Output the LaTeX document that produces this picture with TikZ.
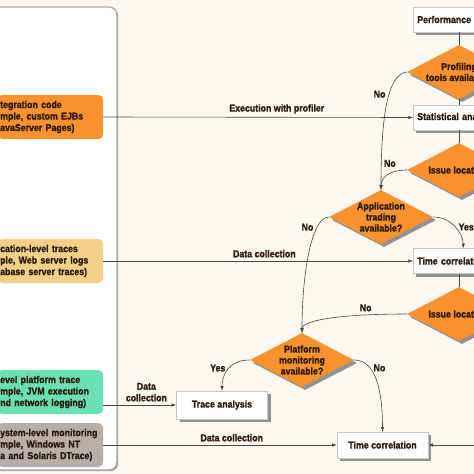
\documentclass[tikz,border=0pt]{standalone}
\usepackage{fontspec}
\setmainfont[FakeStretch=0.88, BoldFeatures={FakeBold=1.2}]{Liberation Sans}
\usetikzlibrary{shapes.geometric,shadows}

\definecolor{bgcream}{HTML}{FCF8EF}
\definecolor{boxorange}{HTML}{F7922F}
\definecolor{boxtan}{HTML}{F2D08A}
\definecolor{boxgreen}{HTML}{6BE0B4}
\definecolor{boxgrey}{HTML}{B7AFA8}
\definecolor{linegrey}{HTML}{474747}
\definecolor{shadegrey}{HTML}{929292}
\definecolor{darktext}{HTML}{2A1A0C}

\tikzset{
  every node/.style={font=\bfseries\fontsize{10}{11.5}\selectfont, text=darktext},
  process/.style={rectangle, draw=gray!45, fill=white, line width=0.5pt, minimum height=25pt,
    inner xsep=4pt, drop shadow={shadow xshift=3pt, shadow yshift=-3pt, fill=shadegrey, opacity=1}},
  decision/.style={diamond, fill=boxorange, minimum width=104pt, minimum height=54pt, inner sep=0pt,
    drop shadow={shadow xshift=3pt, shadow yshift=-3pt, fill=shadegrey, opacity=1}},
  dtext/.style={align=center, font=\bfseries\fontsize{10}{11}\selectfont},
  source/.style={rectangle, rounded corners=5pt, anchor=west, text width=100pt, inner xsep=3pt,
    align=left, minimum height=44pt},
  flow/.style={draw=linegrey, line width=0.6pt, -latex},
  link/.style={draw=linegrey, line width=0.6pt},
}

\begin{document}
\begin{tikzpicture}[x=1pt, y=-1pt]
  \useasboundingbox (0,0) rectangle (474,474);
  \clip (0,0) rectangle (474,474);
  \fill[bgcream] (0,0) rectangle (474,474);

  \draw[draw=gray!65, line width=1.4pt, fill=white, rounded corners=8pt,
    drop shadow={shadow xshift=1.2pt, shadow yshift=-1.2pt, fill=gray!80, opacity=1}]
    (-20,7) rectangle (117,470);

  \node[source, fill=boxorange] (integ) at (-3,117) {tegration code\\mple, custom EJBs\\avaServer Pages)};
  \node[source, fill=boxtan] (apptr) at (-3,261) {cation-level traces\\ple, Web server logs\\abase server traces)};
  \node[source, fill=boxgreen] (lowtr) at (-3,392) {evel platform trace\\mple, JVM execution\\nd network logging)};
  \node[source, fill=boxgrey] (osmon) at (-3,445) {ystem-level monitoring\\mple, Windows NT\\a and Solaris DTrace)};

  \node[process, anchor=west, minimum width=100pt, text width=92pt, align=left] (perf) at (413,19.5) {Performance};
  \node[decision, label={[dtext]center:Profiling\\tools available?}] (prof) at (459,72) {};
  \node[process, anchor=west, minimum width=100pt, text width=92pt, align=left] (stat) at (413,117.5) {Statistical analysis};
  \node[decision, label={[dtext]center:Issue located?}] (iss1) at (459,170) {};
  \node[decision, label={[dtext]center:Application\\trading\\available?}] (app) at (381,217) {};
  \node[process, anchor=west, minimum width=100pt, text width=92pt, align=left] (tc1) at (413,261) {Time correlation};
  \node[decision, label={[dtext]center:Issue located?}] (iss2) at (459,314) {};
  \node[decision, label={[dtext]center:Platform\\monitoring\\available?}] (plat) at (302,360) {};
  \node[process, minimum width=91pt, minimum height=28pt] (trace) at (222,405) {Trace analysis};
  \node[process, minimum width=91pt, minimum height=26pt] (tc2) at (382.5,445) {Time correlation};
  \coordinate (rin) at (480,445);

  \draw[link] (perf.south -| prof.north) -- (prof.north);
  \draw[link] (prof.south) -- (prof.south |- stat.north);
  \draw[link] (stat.south -| iss1.north) -- (iss1.north);
  \draw[link] (tc1.south -| iss2.north) -- (iss2.north);

  \draw[flow] (integ.east) -- (stat.west) node[pos=0.56, above] {Execution with profiler};
  \draw[flow] (apptr.east |- tc1.west) -- (tc1.west) node[pos=0.52, above] {Data collection};
  \draw[flow] (lowtr.east |- trace.west) -- (trace.west) node[pos=0.59, above, align=center] {Data\\collection};
  \draw[flow] (osmon.east |- tc2.west) -- (tc2.west) node[pos=0.55, above] {Data collection};
  \draw[flow] (rin) -- (tc2.east);

  \draw[flow] (prof.west) .. controls +(-20,2) and +(0,-70) .. (app.north) node[pos=0.4, left] {No};
  \draw[flow] (iss1.west) .. controls +(-18,0) and +(0,-12) .. (app.north) node[pos=0.15, above left] {No};
  \draw[flow] (app.east) .. controls +(18,0) and +(0,-15) .. (tc1.north) node[pos=0.5, right] {Yes};
  \draw[flow] (app.west) .. controls +(-18,0) and +(0,-56) .. (plat.north) node[pos=0.25, left] {No};
  \draw[flow] (iss2.west) .. controls +(-70,0) and +(0,-12) .. (plat.north) node[pos=0.22, above] {No};
  \draw[flow] (plat.west) .. controls +(-22,0) and +(0,-15) .. (trace.north) node[pos=0.45, left] {Yes};
  \draw[flow] (plat.east) .. controls +(22,0) and +(0,-40) .. (tc2.north) node[pos=0.3, right] {No};
\end{tikzpicture}
\end{document}
